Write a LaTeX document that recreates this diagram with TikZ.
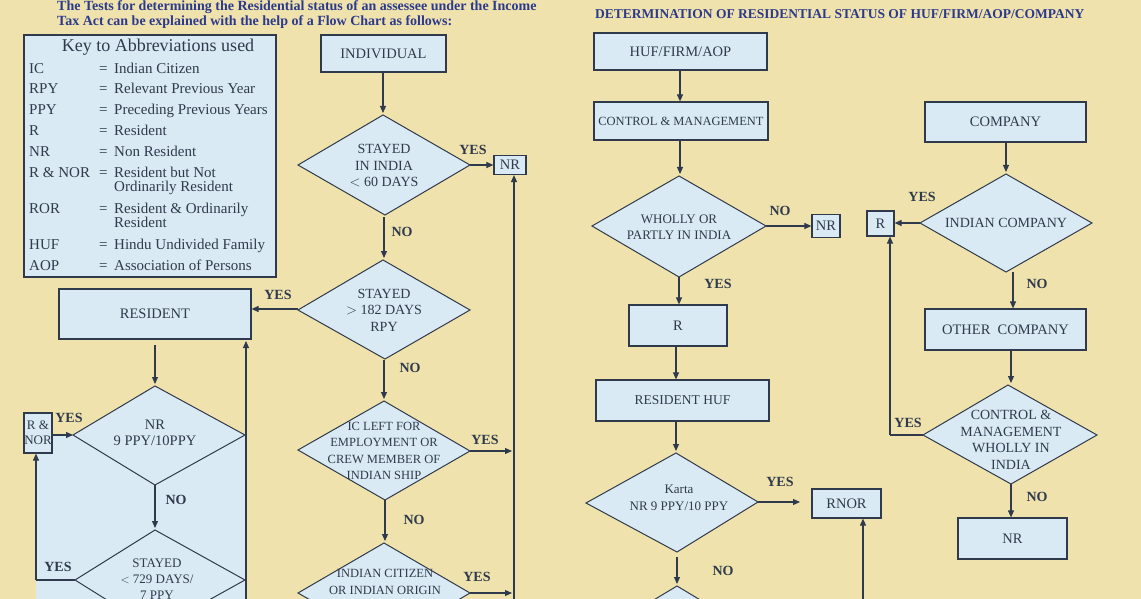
\documentclass[tikz,border=0pt]{standalone}
\usepackage{fontspec}
\setmainfont{Liberation Serif}
\usetikzlibrary{arrows.meta}
\definecolor{bg}{HTML}{EFE2AC}
\definecolor{bx}{HTML}{DAEAF4}
\definecolor{ln}{HTML}{2F3A4C}
\definecolor{tt}{HTML}{2C3A8C}
\tikzset{
 box/.style={draw=ln,fill=bx,line width=1.2pt,inner sep=0pt,text=ln,font=\fontsize{14.5}{15.5}\selectfont,align=center},
 dia/.style={draw=ln,fill=bx,line width=1pt},
 dtxt/.style={text=ln,font=\fontsize{14}{16.5}\selectfont,align=center},
 lab/.style={text=ln,font=\fontsize{14}{15}\selectfont\bfseries},
 arr/.style={draw=ln,line width=1.1pt,-{Triangle[length=7pt,width=6pt]}},
 ln/.style={draw=ln,line width=1.1pt},
 kt/.style={text=ln,font=\fontsize{15}{16}\selectfont,anchor=base west,align=left},
}
\begin{document}
\begin{tikzpicture}[x=1pt,y=-1pt]
\fill[bg] (0,0) rectangle (1141,599);
\useasboundingbox (0,0) rectangle (1141,599);
% titles
\node[text=tt,font=\fontsize{14}{15}\selectfont\bfseries,align=left,anchor=north west,inner sep=0pt] (t1) at (57,0.5) {The Tests for determining the Residential status of an assessee under the Income\\Tax Act can be explained with the help of a Flow Chart as follows:};
\node[text=tt,font=\fontsize{13.5}{14}\selectfont\bfseries,anchor=west,inner sep=0pt] (t2) at (595,14) {DETERMINATION OF RESIDENTIAL STATUS OF HUF/FIRM/AOP/COMPANY};
% key
\draw[draw=ln,fill=bx,line width=1.2pt] (24,35) rectangle (276,277);
\node[text=ln,font=\fontsize{18}{19}\selectfont] (kh) at (158,47) {Key to Abbreviations used};
\foreach \a/\b/\y in {IC/Indian Citizen/74,RPY/Relevant Previous Year/94,PPY/Preceding Previous Years/115,R/Resident/136,NR/Non Resident/157,R \& NOR/Resident but Not/178,/Ordinarily Resident/192,ROR/Resident \& Ordinarily/213,/Resident/227,HUF/Hindu Undivided Family/249,AOP/Association of Persons/270}{
 \node[kt,inner sep=0pt] at (29,\y) {\a};
 \node[kt,inner sep=0pt] at (114,\y) {\b};
}
\foreach \y in {74,94,115,136,157,178,213,249,270}{\node[kt,inner sep=0pt] at (99,\y) {=};}
% left blue region
\fill[bx] (36,453)--(52,453)--(52,435)--(246,435)--(246,599)--(36,599)--cycle;
% individual column
\node[box,minimum width=125,minimum height=37] (ind) at (383.5,53.5) {INDIVIDUAL};
\draw[dia] (298,165)--(383,115)--(470,165)--(385,215)--cycle;
\node[dtxt] (d1) at (384,166) {STAYED\\IN INDIA\\$<$ 60 DAYS};
\node[box,minimum width=32,minimum height=19] (nr1) at (510,165) {NR};
\draw[arr] (383,72)--(383,113);
\draw[arr] (470,165)--(nr1.west);
\node[lab] at (473,150) {YES};
\draw[dia] (298,310)--(383,260)--(470,310)--(385,359)--cycle;
\node[dtxt] (d2) at (384,310) {STAYED\\$>$ 182 DAYS\\RPY};
\draw[arr] (384,217)--(384,258);
\node[lab] at (402,232) {NO};
\node[box,minimum width=192,minimum height=50] (res) at (155,314) {RESIDENT};
\draw[arr] (298,309)--(res.east |- 0,309);
\node[lab] at (278,295) {YES};
\draw[dia] (298,450)--(384,401)--(470,451)--(385,500)--cycle;
\node[dtxt,font=\fontsize{12.5}{16.5}\selectfont] (d3) at (384,451) {IC LEFT FOR\\EMPLOYMENT OR\\CREW MEMBER OF\\INDIAN SHIP};
\draw[arr] (384,360)--(384,399);
\node[lab] at (410,368) {NO};
\draw[arr] (470,451)--(512,451);
\node[lab] at (485,440) {YES};
\draw[dia] (298,593)--(384,543)--(470,593)--(385,643)--cycle;
\node[dtxt,font=\fontsize{12.5}{16.5}\selectfont] (d4) at (385,590) {INDIAN CITIZEN\\OR INDIAN ORIGIN\\ };
\draw[arr] (385,500)--(385,541);
\node[lab] at (414,520) {NO};
\draw[arr] (470,593)--(512,593);
\node[lab] at (477,577) {YES};
\draw[arr] (514,605)--(nr1.south -| 514,0);
% left column
\draw[dia] (73,435)--(155,386)--(245,435)--(155,485)--cycle;
\node[dtxt,font=\fontsize{14.5}{16.5}\selectfont] (d5) at (155,433) {NR\\9 PPY/10PPY};
\draw[arr] (155,345)--(155,384);
\node[box,minimum width=28,minimum height=40,font=\fontsize{13}{15}\selectfont] (rn) at (38,433) {R \&\\NOR};
\draw[arr] (rn.east |- 0,435)--(73,435);
\node[lab] at (69,418) {YES};
\draw[dia] (75,580)--(155,530)--(245,580)--(155,630)--cycle;
\node[dtxt,font=\fontsize{13}{16}\selectfont] (d6) at (157,579) {STAYED\\$<$ 729 DAYS/\\7 PPY};
\draw[arr] (155,485)--(155,528);
\node[lab] at (176,500) {NO};
\draw[ln] (75,580)--(36,580);
\draw[arr] (36,580)--(rn.south -| 36,0);
\node[lab] at (58,567) {YES};
\draw[arr] (246,605)--(246,341);
% HUF column
\node[box,minimum width=173,minimum height=37] (huf) at (680.5,51.5) {HUF/FIRM/AOP};
\node[box,minimum width=174,minimum height=38,font=\fontsize{12.5}{15}\selectfont] (cm) at (681,121) {CONTROL \& MANAGEMENT};
\draw[arr] (huf.south -| 680,0)--(cm.north -| 680,0);
\draw[dia] (592,226)--(679,176)--(766,226)--(679,277)--cycle;
\node[dtxt,font=\fontsize{13}{15.5}\selectfont] (d7) at (679,227) {WHOLLY OR\\PARTLY IN INDIA};
\draw[arr] (680,141)--(680,174);
\node[box,minimum width=28,minimum height=23] (nr2) at (826,226) {NR};
\draw[arr] (766,226)--(nr2.west);
\node[lab] at (780,211) {NO};
\node[box,minimum width=98,minimum height=41] (r1) at (678,325.5) {R};
\draw[arr] (679,277)--(r1.north -| 679,0);
\node[lab] at (718,284) {YES};
\node[box,minimum width=173,minimum height=41,font=\fontsize{13.5}{15}\selectfont] (rh) at (682.5,400.5) {RESIDENT HUF};
\draw[arr] (r1.south -| 676,0)--(rh.north -| 676,0);
\draw[dia] (586,503)--(676,453)--(758,502)--(677,552)--cycle;
\node[dtxt,font=\fontsize{13}{17}\selectfont] (d8) at (679,498) {Karta\\NR 9 PPY/10 PPY};
\draw[arr] (676,421)--(676,451);
\node[box,minimum width=69,minimum height=29] (rnor) at (846.5,503.5) {RNOR};
\draw[arr] (758,502)--(800,502);
\node[lab] at (780,482) {YES};
\draw[arr] (863,605)--(rnor.south -| 863,0);
\draw[dia] (587,640)--(677,586)--(767,640)--cycle;
\draw[arr] (677,557)--(677,584);
\node[lab] at (723,571) {NO};
% company column
\node[box,minimum width=161,minimum height=40] (co) at (1005.5,122) {COMPANY};
\draw[dia] (920,223)--(1006,174)--(1092,223)--(1006,272)--cycle;
\node[dtxt,font=\fontsize{14}{15}\selectfont] (d9) at (1006,223) {INDIAN COMPANY};
\draw[arr] (co.south -| 1006,0)--(1006,172);
\node[box,minimum width=27,minimum height=25] (r2) at (880.5,223.5) {R};
\draw[arr] (920,223)--(r2.east |- 0,223);
\node[lab] at (922,197) {YES};
\node[box,minimum width=161,minimum height=41] (oc) at (1005.5,329.5) {OTHER\ \ COMPANY};
\draw[arr] (1013,272)--(oc.north -| 1013,0);
\node[lab] at (1037,284) {NO};
\draw[dia] (923,435)--(1008,385)--(1097,435)--(1011,484)--cycle;
\node[dtxt,font=\fontsize{14}{16.5}\selectfont] (d10) at (1011,440) {CONTROL \&\\MANAGEMENT\\WHOLLY IN\\INDIA};
\draw[arr] (oc.south -| 1011,0)--(1011,383);
\draw[ln] (923,435)--(890,435);
\draw[arr] (890,435)--(r2.south -| 890,0);
\node[lab] at (908,423) {YES};
\node[box,minimum width=109,minimum height=41] (nr3) at (1012.5,538.5) {NR};
\draw[arr] (1011,484)--(nr3.north -| 1011,0);
\node[lab] at (1037,497) {NO};
\end{tikzpicture}
\end{document}
